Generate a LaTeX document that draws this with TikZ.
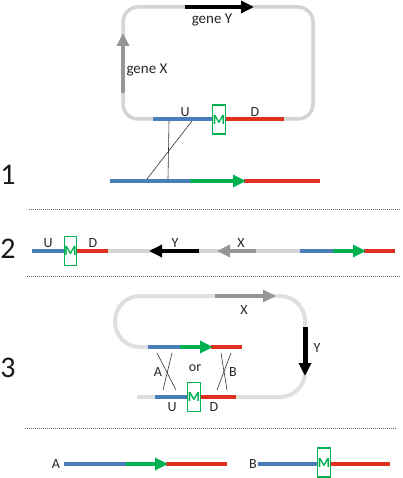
\documentclass[tikz,border=0pt]{standalone}
\usepackage{fontspec}
\setmainfont{Carlito}[BoldFont={Carlito Bold}]
\usetikzlibrary{arrows.meta}
\definecolor{segblue}{RGB}{74,126,187}
\definecolor{seggreen}{RGB}{0,176,80}
\definecolor{segred}{RGB}{224,48,30}
\definecolor{backbone}{RGB}{212,212,212}
\definecolor{genegray}{RGB}{150,150,150}
\begin{document}
\begin{tikzpicture}[x=1pt,y=1pt,yscale=-1,xscale=1,
  bar/.style={line width=4pt},
  gene/.style={line width=4pt,-{Triangle[length=13pt,width=12pt]}},
  cross/.style={line width=0.6pt,black!80},
  lbl/.style={inner sep=0.5pt,font=\fontsize{14}{14}\selectfont,text=black!85},
  mbox/.style={draw=seggreen,line width=1.1pt,fill=white,minimum width=12pt,minimum height=29pt,inner sep=0pt,text=seggreen,font=\fontsize{14}{14}\selectfont\bfseries},
  stepnum/.style={inner sep=0pt,font=\fontsize{30}{30}\selectfont,text=black!90},
  sep/.style={line width=0.8pt,black!60,dash pattern=on 1pt off 1pt}]
\useasboundingbox (0,0) rectangle (402,478);
% step 1
\draw [backbone,line width=3.5pt,rounded corners=15] (153,119) -- (123,119) -- (123,7) -- (313,7) -- (313,119) -- (284,119) ;
\draw [gene,genegray,line width=4.5pt] (123,93) -- (123,33) ;
\draw [gene,black] (185,7) -- (254,7) ;
\node [lbl,font=\fontsize{15}{15}\selectfont] (geneY) at (212,20) {gene Y};
\node [lbl,font=\fontsize{15}{15}\selectfont] (geneX) at (147,70) {gene X};
\draw [bar,segblue] (153,119) -- (213,119) ;
\draw [bar,segred] (225,119) -- (284,119) ;
\node [mbox] (m1) at (219,119.5) {M};
\node [lbl] (u1) at (185,112) {U};
\node [lbl] (d1) at (255,112) {D};
\coordinate (c1a) at (169,121);
\coordinate (c1b) at (168,179);
\coordinate (c1c) at (192,121);
\coordinate (c1d) at (147,179);
\draw [cross] (c1a) -- (c1b) ;
\draw [cross] (c1c) -- (c1d) ;
\draw [bar,segblue] (110,181) -- (190,181) ;
\draw [bar,segred] (244,181) -- (320,181) ;
\draw [gene,seggreen] (190,181) -- (246,181) ;
\node [stepnum] (s1) at (8,175) {1};
\draw [sep] (29,209) -- (400,209) ;
% step 2
\draw [bar,backbone] (108,251) -- (300,251) ;
\draw [bar,segblue] (32,251) -- (65,251) ;
\draw [bar,segred] (76,251) -- (108,251) ;
\node [mbox] (m2) at (70.5,251) {M};
\draw [gene,black] (199,251) -- (149,251) ;
\draw [gene,genegray] (256,251) -- (217,251) ;
\draw [bar,segblue] (300,251) -- (333,251) ;
\draw [bar,segred] (364,251) -- (395,251) ;
\draw [gene,seggreen] (333,251) -- (366,251) ;
\node [lbl] (u2) at (48,243) {U};
\node [lbl] (d2) at (93,243) {D};
\node [lbl] (y2) at (175,243) {Y};
\node [lbl] (x2) at (241,243) {X};
\node [stepnum] (s2) at (8,249) {2};
\draw [sep] (27,276) -- (400,276) ;
% step 3
\draw [backbone!75,line width=4pt,rounded corners=25] (148,347) -- (115,347) -- (115,296) -- (305,296) -- (305,397) -- (236,397) ;
\draw [bar,backbone!75] (137,397) -- (155,397) ;
\draw [gene,genegray] (215,296) -- (276,296) ;
\draw [gene,black,line width=5pt] (305,327) -- (305,376) ;
\node [lbl] (x3) at (244,310) {X};
\node [lbl] (y3) at (317,348) {Y};
\draw [bar,segblue] (148,347) -- (180,347) ;
\draw [bar,segred] (211,347) -- (242,347) ;
\draw [gene,seggreen] (180,347) -- (213,347) ;
\draw [bar,segblue] (155,397) -- (188,397) ;
\draw [bar,segred] (200,397) -- (236,397) ;
\node [mbox] (m3) at (194,397) {M};
\coordinate (a1) at (157,353);
\coordinate (a2) at (176,390);
\coordinate (a3) at (172,353);
\coordinate (a4) at (163,390);
\coordinate (b1) at (221,353);
\coordinate (b2) at (227,390);
\coordinate (b3) at (231,353);
\coordinate (b4) at (217,390);
\draw [cross] (a1) -- (a2) ;
\draw [cross] (a3) -- (a4) ;
\draw [cross] (b1) -- (b2) ;
\draw [cross] (b3) -- (b4) ;
\node [lbl] (a3l) at (158,372) {A};
\node [lbl] (or3) at (195,368) {or};
\node [lbl] (b3l) at (233,372) {B};
\node [lbl] (u3) at (172,407) {U};
\node [lbl] (d3) at (214,407) {D};
\node [stepnum] (s3) at (8,368) {3};
\draw [sep] (25,428) -- (397,428) ;
% results
\node [lbl] (resA) at (56,464) {A};
\draw [bar,segblue] (64,464) -- (126,464) ;
\draw [bar,segred] (166,464) -- (227,464) ;
\draw [gene,seggreen] (126,464) -- (168,464) ;
\node [lbl] (resB) at (253,464) {B};
\draw [bar,segblue] (258,464) -- (318,464) ;
\draw [bar,segred] (330,464) -- (390,464) ;
\node [mbox] (m4) at (324,462.5) {M};
\end{tikzpicture}
\end{document}
